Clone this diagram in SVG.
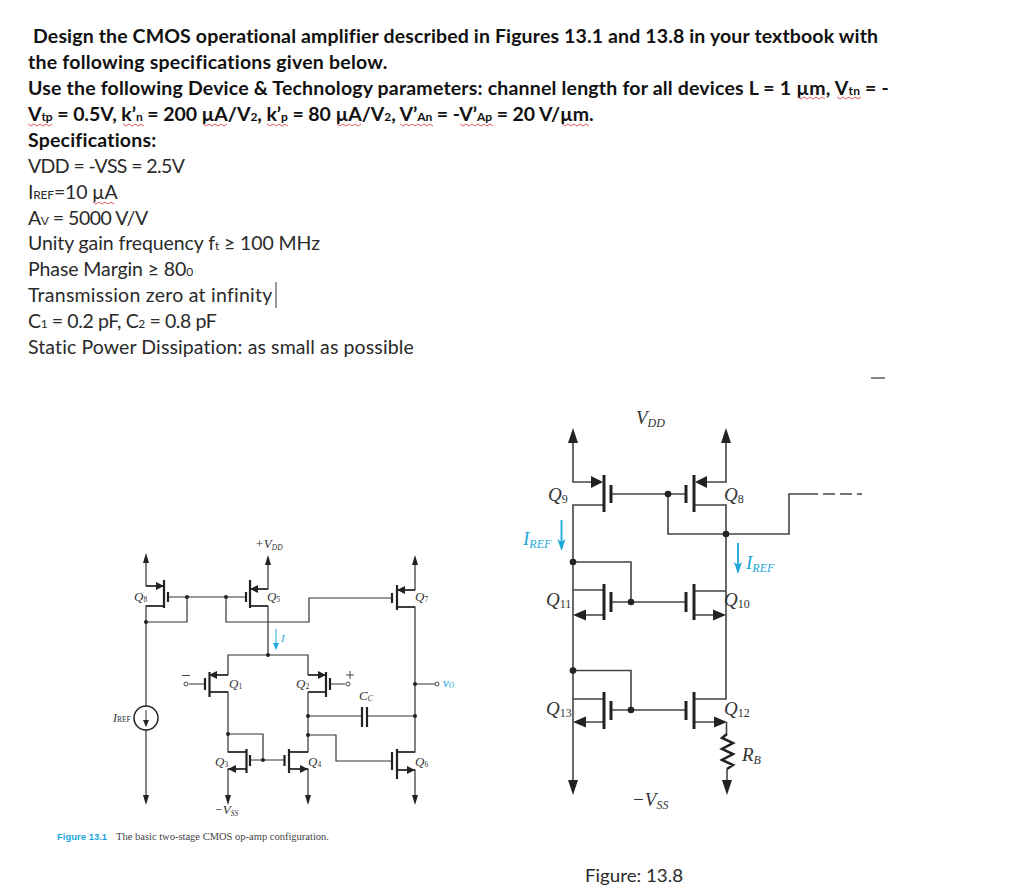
<svg xmlns="http://www.w3.org/2000/svg" width="1024" height="894" viewBox="0 0 1024 894">
<style>
.t{font-family:Lato,"Liberation Sans",sans-serif;font-size:19.500px;fill:#2a2a2a}
.b{font-family:Lato,"Liberation Sans",sans-serif;font-size:19.500px;font-weight:700;fill:#111}
.s{font-size:12px}
.w{fill:none;stroke:#333;stroke-width:1.2}
.ch{fill:none;stroke:#222;stroke-width:2.200}
.st{fill:none;stroke:#222;stroke-width:1.700}
.wr{fill:none;stroke:#444;stroke-width:1.600}
.chr{fill:none;stroke:#222;stroke-width:3}
.sq{fill:none;stroke:#d33;stroke-width:.8}
.l{font-family:"Liberation Serif",serif;font-style:italic;font-size:13px;fill:#333}
.l tspan{font-size:7.500px}
.lr{font-family:"Liberation Serif",serif;font-style:italic;font-size:19px;fill:#333}
.lr tspan{font-size:12px}
.n{font-style:normal}
.cy{fill:#1aa7dc}
.c{fill:#1aa7dc}
.cl{stroke:#1aa7dc;fill:none}
.d{fill:#222}
</style>
<g id="text-block">
<text class="b" x="33" y="43" letter-spacing=".14">Design the CMOS operational amplifier described in Figures 13.1 and 13.8 in your textbook with</text>
<text class="b" x="28" y="69" letter-spacing=".22">the following specifications given below.</text>
<text class="b" x="28" y="94.500" letter-spacing=".19">Use the following Device &amp; Technology parameters: channel length for all devices L = 1 µm, V<tspan class="s">tn</tspan> = -</text>
<text class="b" x="28" y="120.500" letter-spacing="-.08">V<tspan class="s">tp</tspan> = 0.5V, k’<tspan class="s">n</tspan> = 200 µA/V<tspan class="s">2</tspan>, k’<tspan class="s">p</tspan> = 80 µA/V<tspan class="s">2</tspan>, V’<tspan class="s">An</tspan> = -V’<tspan class="s">Ap</tspan> = 20 V/µm.</text>
<text class="b" x="28" y="146.500" letter-spacing=".2">Specifications:</text>
<text class="t" x="28" y="172.500" letter-spacing="-.6">VDD = -VSS = 2.5V</text>
<text class="t" x="28" y="199" letter-spacing="-.2">I<tspan class="s">REF</tspan>=10 µA</text>
<text class="t" x="28" y="224.500" letter-spacing="-.5">A<tspan class="s">V</tspan> = 5000 V/V</text>
<text class="t" x="28" y="250" letter-spacing="-.1">Unity gain frequency f<tspan class="s">t</tspan> ≥ 100 MHz</text>
<text class="t" x="28" y="276" letter-spacing="-.1">Phase Margin ≥ 80<tspan class="s">0</tspan></text>
<text class="t" x="28" y="302" letter-spacing=".25">Transmission zero at infinity</text>
<text class="t" x="28" y="328" letter-spacing="-.4">C<tspan class="s">1</tspan> = 0.2 pF, C<tspan class="s">2</tspan> = 0.8 pF</text>
<text class="t" x="28" y="354" letter-spacing=".11">Static Power Dissipation: as small as possible</text>
<path d="M276 282V308" stroke="#333" stroke-width="1" fill="none"/>
<path d="M871 378H885" stroke="#444" stroke-width="1.300" fill="none"/>
<path class="sq" d="M28 124l3 2 3-2 3 2 3-2 3 2 3-2 3 2 3-2M123 124l3 2 3-2 3 2 3-2 3 2 3-2 3 2M203 124l3 2 3-2 3 2 3-2 3 2 3-2 3 2 3-2M267 124l3 2 3-2 3 2 3-2 3 2 3-2 3 2M337 124l3 2 3-2 3 2 3-2 3 2 3-2 3 2 3-2M400 124l3 2 3-2 3 2 3-2 3 2 3-2 3 2 3-2 3 2 3-2 3 2M460 124l3 2 3-2 3 2 3-2 3 2 3-2 3 2 3-2 3 2 3-2 3 2M562 124l3 2 3-2 3 2 3-2 3 2 3-2 3 2 3-2 3 2M798 97l3 2 3-2 3 2 3-2 3 2 3-2 3 2 3-2 3 2M837 97l3 2 3-2 3 2 3-2 3 2 3-2 3 2 3-2M93 202l3 2 3-2 3 2 3-2 3 2 3-2 3 2"/>
</g>
<g id="fig-13-1-connectors" class="w">
<path d="M146 560V586H164M164 606H146V800M146 622H187V597M168 597H245M226 597V622H309V598H392"/>
<path d="M268 560V589H250M250 606H268V655M228 675V655H308V675"/>
<path d="M397 590H415V560M397 607H415V752H397M397 770H415V800M415 684H435M308 692V752H289M289 769H308V800"/>
<path d="M209 675H228M209 692H228V752H246M246 769H228V800M308 675H326M308 692H326"/>
<path d="M189 684H205M330 684H345M308 716H362M367 716H415M308 735H336V761H392M228 734H263V760M250 760H284"/>
</g>
<g id="fig-13-1-nodes">
<path class="st" d="M146 586H164M146 606H164M250 589H268M250 606H268M397 590H415M397 607H415M397 752H415M397 770H415M209 675H228M209 692H228M308 675H326M308 692H326M228 752H246M228 769H246M289 752H308M289 769H308"/>
<path class="ch" d="M164 580V608M168 592V602M250 580V608M246 592V602M397 585V610M392 593V603M209.500 672V697M205 678V690M326 672V697M330 678V690M246.500 749V773M250 755V766M289 749V773M284.500 755V766M397 749V779M392 752V770"/>
<path class="ch" d="M362 707V727M367 707V727"/>
<path class="d" d="M164 586l-8-4v8zM250 589l8-4v8zM397 590l8-4v8zM209 675l8-4v8zM326 675l-8-4v8zM228 769l8-4v8zM308 769l-8-4v8zM415 770l-8-4v8z"/>
<path class="d" d="M146 553l-3 10h6zM268 555l-3 10h6zM415 555l-3 10h6zM146 805l-3-10h6zM228 805l-3-10h6zM308 805l-3-10h6zM415 805l-3-10h6z"/>
<g class="d"><circle cx="146" cy="622" r="2"/><circle cx="187" cy="597" r="2"/><circle cx="226" cy="597" r="2"/><circle cx="268" cy="655" r="2"/><circle cx="415" cy="684" r="2"/><circle cx="415" cy="716" r="2"/><circle cx="308" cy="716" r="2"/><circle cx="308" cy="735" r="2"/><circle cx="228" cy="734" r="2"/><circle cx="263" cy="760" r="2"/></g>
<circle cx="146" cy="718" r="12" fill="#fff" stroke="#222" stroke-width="1.500"/>
<path d="M146 710V724" stroke="#333" fill="none"/><path class="d" d="M146 727l-3-7h6z"/>
<g fill="#fff" stroke="#444"><circle cx="186" cy="684" r="2"/><circle cx="348" cy="684" r="2"/><circle cx="437" cy="684" r="2"/></g>
<path d="M182 675.500H190M346 675H354M350 671V679" stroke="#444" fill="none"/>
<path class="cl" d="M276 629V646"/><path class="c" d="M276 650l-3-7h6z"/>
<text class="l cy" x="281" y="642" style="fill:#1aa7dc;font-size:11px">I</text>
<text class="l" x="255" y="548">+V<tspan dy="2">DD</tspan></text>
<text class="l" x="134" y="601">Q<tspan class="n" dy="1">8</tspan></text>
<text class="l" x="267" y="601">Q<tspan class="n" dy="1">5</tspan></text>
<text class="l" x="415" y="601">Q<tspan class="n" dy="1">7</tspan></text>
<text class="l" x="229" y="688">Q<tspan class="n" dy="1">1</tspan></text>
<text class="l" x="296" y="688">Q<tspan class="n" dy="1">2</tspan></text>
<text class="l" x="215" y="766">Q<tspan class="n" dy="1">3</tspan></text>
<text class="l" x="308" y="766">Q<tspan class="n" dy="1">4</tspan></text>
<text class="l" x="415" y="766">Q<tspan class="n" dy="1">6</tspan></text>
<text class="l" x="113" y="722" style="font-size:12px">I<tspan class="n">REF</tspan></text>
<text class="l" x="359" y="700">C<tspan dy="1">C</tspan></text>
<text class="l" x="443" y="687" style="fill:#1aa7dc">v<tspan dy="1">O</tspan></text>
<text class="l" x="214" y="814">−V<tspan dy="2">SS</tspan></text>
<text x="57" y="840" font-family="Liberation Sans,sans-serif" font-size="9.500" font-weight="700" fill="#1aa7dc">Figure 13.1</text>
<text x="116" y="840" font-family="Liberation Serif,serif" font-size="9.800" fill="#444" textLength="213" lengthAdjust="spacingAndGlyphs">The basic two-stage CMOS op-amp configuration.</text>
</g>
<g id="fig-13-8-connectors" class="wr">
<path d="M573 435V482H592M604 505H573V615M573 562H631V602M573 590H604M604 615H580M573 615V670M611 494H686M668 494V534H789V494H806" />
<path d="M806 494H862" stroke-dasharray="12 5"/>
<path d="M726 435V482H706M694 505H726V615M694 591H726M694 615H715M726 615V699H694M694 722H715"/>
<path d="M611 602H686M573 670V722M573 670.500H631V710M573 699H604M604 722H580M573 722V785M611 710H686M726.500 722V734"/>
<path d="M727 769V785"/>
</g>
<g id="fig-13-8-nodes">
<path class="chr" d="M604 475V512M611 485V503M694 475V512M686 485V503M604 584V620M611 592V612M694 584V620M686 592V612M604 692V729M611 701V720M694 692V729M686 701V720"/>
<path d="M727 734L722 738 733 743 722 749 733 754 722 760 733 765 727 769" fill="none" stroke="#222" stroke-width="2.500"/>
<path class="d" d="M603 482l-12-6v12zM695 482l12-6v12zM573 615l13-5.500v11zM726 615l-13-5.500v11zM573 722l13-5.500v11zM727 722l-13-5.500v11z"/>
<path class="d" d="M573 428l-5 15h10zM726 428l-5 15h10zM573 795l-5-15h10zM727 795l-5-15h10z"/>
<g class="d"><circle cx="668" cy="494" r="3.300"/><circle cx="726" cy="534" r="3.300"/><circle cx="573" cy="562" r="3.300"/><circle cx="631" cy="602" r="3.300"/><circle cx="573" cy="670.500" r="3.300"/><circle cx="631" cy="710" r="3.300"/></g>
<path class="cl" stroke-width="1.800" d="M561.500 520V546M738 543V569"/>
<path class="c" d="M561.500 551l-4-12 4 3 4-3zM738 574l-4-12 4 3 4-3z"/>
<text class="lr" x="636" y="424">V<tspan dy="3">DD</tspan></text>
<text class="lr" x="548" y="501">Q<tspan class="n" dy="2">9</tspan></text>
<text class="lr" x="724" y="501">Q<tspan class="n" dy="2">8</tspan></text>
<text class="lr" x="546" y="606">Q<tspan class="n" dy="2">11</tspan></text>
<text class="lr" x="724" y="606">Q<tspan class="n" dy="2">10</tspan></text>
<text class="lr" x="546" y="715">Q<tspan class="n" dy="2">13</tspan></text>
<text class="lr" x="724" y="715">Q<tspan class="n" dy="2">12</tspan></text>
<text class="lr" x="742" y="761">R<tspan dy="3">B</tspan></text>
<text class="lr" x="632" y="806">−V<tspan dy="3">SS</tspan></text>
<text class="lr cy" x="523" y="545" style="fill:#1aa7dc">I<tspan dy="3">REF</tspan></text>
<text class="lr cy" x="746" y="569" style="fill:#1aa7dc">I<tspan dy="3">REF</tspan></text>
<text class="t" x="585" y="882" style="font-size:18px" textLength="98" lengthAdjust="spacingAndGlyphs">Figure: 13.8</text>
</g>
</svg>
